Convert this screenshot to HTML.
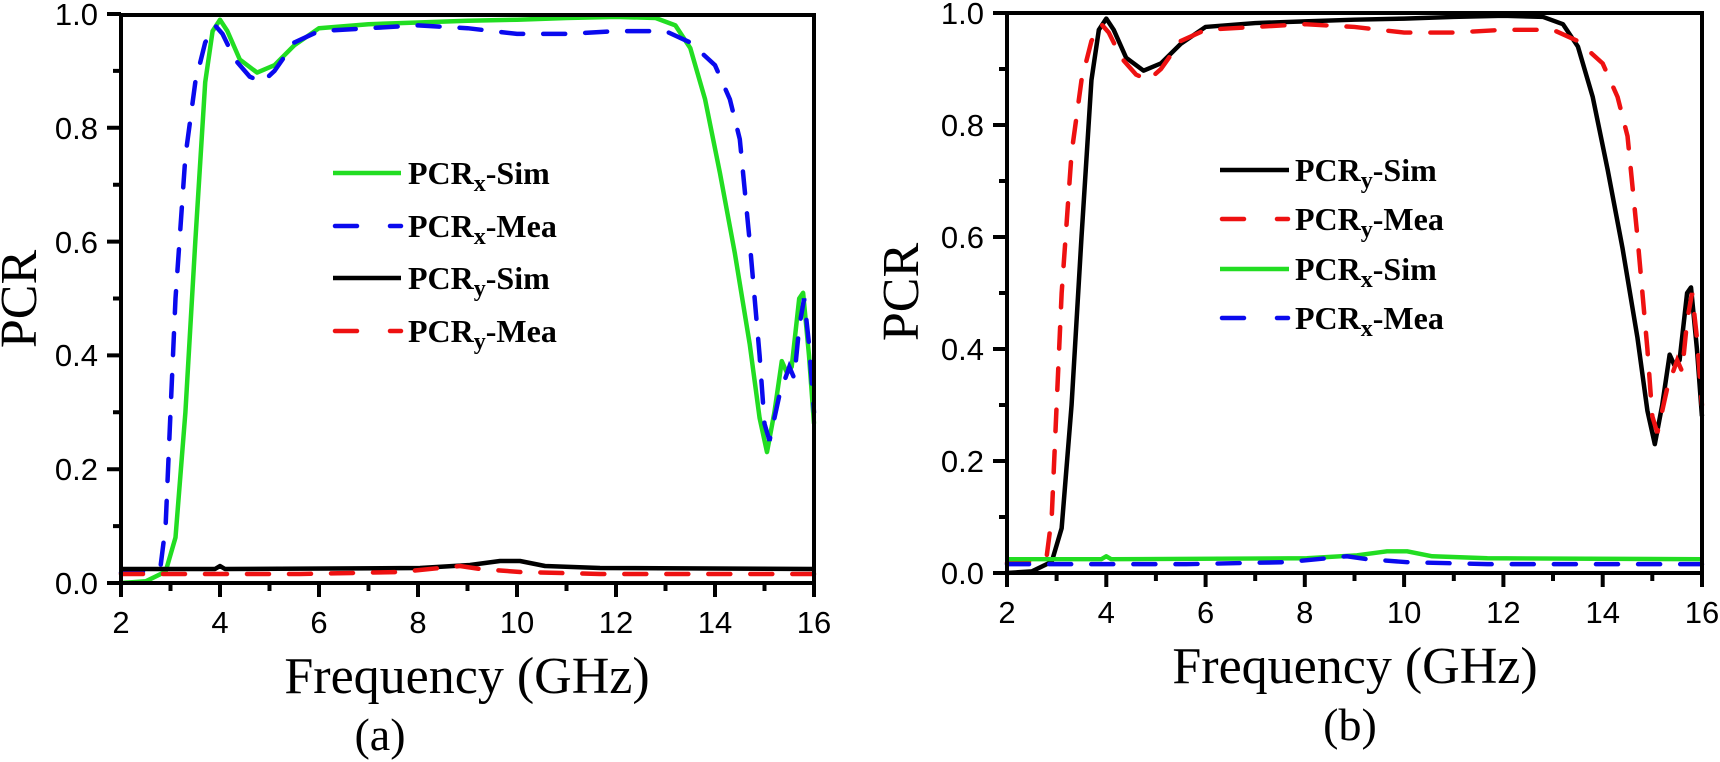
<!DOCTYPE html>
<html><head><meta charset="utf-8"><style>
html,body{margin:0;padding:0;background:#fff;}
svg{display:block;}
.t{font-family:"Liberation Sans",Arial,sans-serif;font-size:31px;fill:#000;}
.s{font-family:"Liberation Serif","Times New Roman",serif;fill:#000;}
.lg{font-family:"Liberation Serif","Times New Roman",serif;font-weight:bold;font-size:32px;fill:#000;}
</style></head><body>
<svg width="1720" height="762" viewBox="0 0 1720 762" xmlns="http://www.w3.org/2000/svg">
<defs>
<path id="sim" fill="none" stroke-width="4.5" stroke-linejoin="round" d="M121,583 L145.8,581.3 L165.6,571.6 L175.5,537.5 L185.4,412.3 L195.3,241.6 L205.2,82.3 L212.6,31.1 L220,19.7 L227.4,31.1 L239.8,59.5 L257.1,72.6 L274.5,65.2 L294.3,45.3 L319,28.2 L368.5,24.2 L418,22.5 L467.5,20.8 L517,19.7 L566.5,18 L616,16.9 L655.6,18 L675.4,25.4 L690.3,48.1 L705.1,99.4 L720,173.3 L734.8,253 L749.7,344 L759.6,418 L767,452.1 L774.4,412.3 L781.8,361.1 L786.8,372.5 L791.7,366.8 L799.2,298.5 L803.1,292.8 L809,355.4 L814,423.7"/>
<path id="mea" fill="none" stroke-width="4.5" stroke-linecap="round" stroke-dasharray="22 20" d="M121,572.8 L145.8,571.6 L160.6,565.9 L165.6,526.1 L170.5,412.3 L175.5,298.5 L185.4,156.3 L195.3,82.3 L205.2,42.5 L215.1,25.4 L222.5,33.9 L234.9,59.5 L249.7,76.6 L262.1,82.3 L274.5,70.9 L294.3,42.5 L319,31.1 L368.5,28.2 L418,25.4 L467.5,28.2 L517,33.9 L566.5,33.9 L616,31.1 L665.5,31.1 L690.3,42.5 L715,65.2 L729.9,99.4 L739.8,139.2 L749.7,241.6 L759.6,355.4 L764.5,423.7 L769.5,440.8 L779.4,395.2 L789.3,366.8 L794.2,378.2 L799.2,327 L804.1,298.5 L809,344 L814,412.3"/>
<path id="lowsim" fill="none" stroke-width="4.5" stroke-linejoin="round" d="M121,569 L215,569 L220,566 L225,569 L420,568 L470,565 L500,561 L520,561 L545,566 L600,568 L814,569"/>
<path id="lowmea" fill="none" stroke-width="4.5" stroke-linecap="round" stroke-dasharray="22 20" d="M121,574 L300,574 L400,572 L440,568 L460,566 L480,569 L520,572 L600,574 L814,574"/>
</defs>

<use href="#sim" stroke="#22dd22"/>
<use href="#mea" stroke="#0a0aee"/>
<use href="#lowsim" stroke="#000"/>
<use href="#lowmea" stroke="#ee1111"/>
<rect x="121" y="15" width="693" height="568" fill="none" stroke="#000" stroke-width="4"/>
<g stroke="#000" stroke-width="4">
<path d="M121,583v14M220,583v14M319,583v14M418,583v14M517,583v14M616,583v14M715,583v14M814,583v14M170.5,583v8M269.5,583v8M368.5,583v8M467.5,583v8M566.5,583v8M665.5,583v8M764.5,583v8"/>
<path d="M121,583h-14M121,469.2h-14M121,355.4h-14M121,241.6h-14M121,127.8h-14M121,14h-14M121,526.1h-8M121,412.3h-8M121,298.5h-8M121,184.7h-8M121,70.9h-8"/>
</g>
<g class="t" text-anchor="middle">
<text x="121" y="633">2</text><text x="220" y="633">4</text><text x="319" y="633">6</text><text x="418" y="633">8</text><text x="517" y="633">10</text><text x="616" y="633">12</text><text x="715" y="633">14</text><text x="814" y="633">16</text>
</g>
<g class="t" text-anchor="end">
<text x="98" y="594">0.0</text><text x="98" y="480">0.2</text><text x="98" y="366">0.4</text><text x="98" y="253">0.6</text><text x="98" y="139">0.8</text><text x="98" y="25">1.0</text>
</g>
<text class="s" font-size="52" text-anchor="middle" transform="translate(36,299) rotate(-90)">PCR</text>
<text class="s" font-size="52" x="467" y="693" text-anchor="middle">Frequency (GHz)</text>
<text class="s" font-size="46" x="380" y="750" text-anchor="middle">(a)</text>
<g>
<line x1="333" y1="173" x2="401" y2="173" stroke="#22dd22" stroke-width="4.5"/>
<path d="M335,226h22M390,226h11" stroke="#0a0aee" stroke-width="4.5" stroke-linecap="round"/>
<line x1="333" y1="278" x2="401" y2="278" stroke="#000" stroke-width="4.5"/>
<path d="M335,331h22M390,331h11" stroke="#ee1111" stroke-width="4.5" stroke-linecap="round"/>
<text class="lg" x="408" y="184">PCR<tspan font-size="24" dy="7">x</tspan><tspan dy="-7">-Sim</tspan></text>
<text class="lg" x="408" y="237">PCR<tspan font-size="24" dy="7">x</tspan><tspan dy="-7">-Mea</tspan></text>
<text class="lg" x="408" y="289">PCR<tspan font-size="24" dy="7">y</tspan><tspan dy="-7">-Sim</tspan></text>
<text class="lg" x="408" y="342">PCR<tspan font-size="24" dy="7">y</tspan><tspan dy="-7">-Mea</tspan></text>
</g>

<g transform="matrix(1.0028,0,0,0.9842,885.66,-0.79)">
<use href="#sim" stroke="#000"/>
<use href="#mea" stroke="#ee1111"/>
<use href="#lowsim" stroke="#22dd22"/>
<use href="#lowmea" stroke="#0a0aee"/>
</g>
<rect x="1007" y="13" width="695" height="560" fill="none" stroke="#000" stroke-width="4"/>
<g stroke="#000" stroke-width="4">
<path d="M1007,573v14M1106.3,573v14M1205.6,573v14M1304.8,573v14M1404.1,573v14M1503.4,573v14M1602.7,573v14M1702,573v14M1056.6,573v8M1155.9,573v8M1255.2,573v8M1354.5,573v8M1453.8,573v8M1553,573v8M1652.3,573v8"/>
<path d="M1007,573h-14M1007,461h-14M1007,349h-14M1007,237h-14M1007,125h-14M1007,13h-14M1007,517h-8M1007,405h-8M1007,293h-8M1007,181h-8M1007,69h-8"/>
</g>
<g class="t" text-anchor="middle">
<text x="1007" y="623">2</text><text x="1106.3" y="623">4</text><text x="1205.6" y="623">6</text><text x="1304.8" y="623">8</text><text x="1404.1" y="623">10</text><text x="1503.4" y="623">12</text><text x="1602.7" y="623">14</text><text x="1702" y="623">16</text>
</g>
<g class="t" text-anchor="end">
<text x="984" y="584">0.0</text><text x="984" y="472">0.2</text><text x="984" y="360">0.4</text><text x="984" y="248">0.6</text><text x="984" y="136">0.8</text><text x="984" y="24">1.0</text>
</g>
<text class="s" font-size="52" text-anchor="middle" transform="translate(918,292) rotate(-90)">PCR</text>
<text class="s" font-size="52" x="1355" y="683" text-anchor="middle">Frequency (GHz)</text>
<text class="s" font-size="46" x="1350" y="740" text-anchor="middle">(b)</text>
<g>
<line x1="1220" y1="170" x2="1289" y2="170" stroke="#000" stroke-width="4.5"/>
<path d="M1222,219h22M1277,219h11" stroke="#ee1111" stroke-width="4.5" stroke-linecap="round"/>
<line x1="1220" y1="269" x2="1289" y2="269" stroke="#22dd22" stroke-width="4.5"/>
<path d="M1222,318h22M1277,318h11" stroke="#0a0aee" stroke-width="4.5" stroke-linecap="round"/>
<text class="lg" x="1295" y="181">PCR<tspan font-size="24" dy="7">y</tspan><tspan dy="-7">-Sim</tspan></text>
<text class="lg" x="1295" y="230">PCR<tspan font-size="24" dy="7">y</tspan><tspan dy="-7">-Mea</tspan></text>
<text class="lg" x="1295" y="280">PCR<tspan font-size="24" dy="7">x</tspan><tspan dy="-7">-Sim</tspan></text>
<text class="lg" x="1295" y="329">PCR<tspan font-size="24" dy="7">x</tspan><tspan dy="-7">-Mea</tspan></text>
</g>
</svg>
</body></html>
